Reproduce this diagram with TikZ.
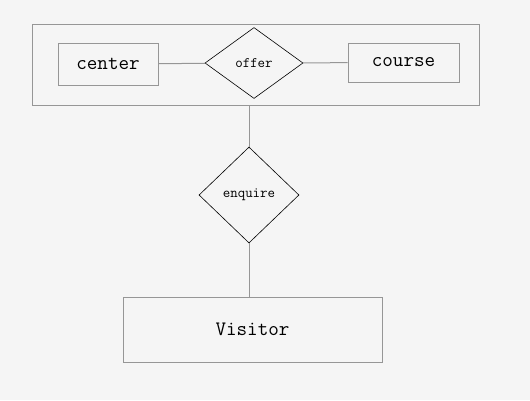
\documentclass[tikz,border=0pt]{standalone}
\usetikzlibrary{shapes.geometric}
\definecolor{fondo}{RGB}{245,245,245}
\definecolor{linea}{RGB}{150,150,150}
\begin{document}
\begin{tikzpicture}[x=1pt, y=-1pt,
    entidad/.style={draw=linea, line width=1pt, inner sep=0pt, font=\ttfamily\fontsize{20.5}{22}\selectfont},
    relacion/.style={draw=black, line width=0.6pt, diamond, inner sep=0pt, font=\ttfamily\fontsize{14.5}{16}\selectfont},
    union/.style={draw=linea, line width=1pt}]
% Fondo
\fill[fondo] (0,0) rectangle (530,400);
\useasboundingbox (0,0) rectangle (530,400);
% Agregado
\node[entidad, minimum width=447pt, minimum height=81pt] (grupo) at (255.5,65) {};
\node[entidad, minimum width=100pt, minimum height=42pt] (center) at (108,64) {center};
\node[relacion, minimum width=98pt, minimum height=71pt] (offer) at (254,63) {offer};
\node[entidad, minimum width=111pt, minimum height=39pt] (course) at (403.5,62.5) {course};
\draw[union] (center) -- (offer);
\draw[union] (offer) -- (course);
% Visitante
\node[relacion, minimum width=100pt, minimum height=96pt] (enquire) at (249,195) {enquire};
\node[entidad, minimum width=259pt, minimum height=65pt] (visitor) at (252.5,329.5) {Visitor};
\draw[union] (enquire.north |- grupo.south) -- (enquire.north);
\draw[union] (enquire.south) -- (enquire.south |- visitor.north);
\end{tikzpicture}
\end{document}
